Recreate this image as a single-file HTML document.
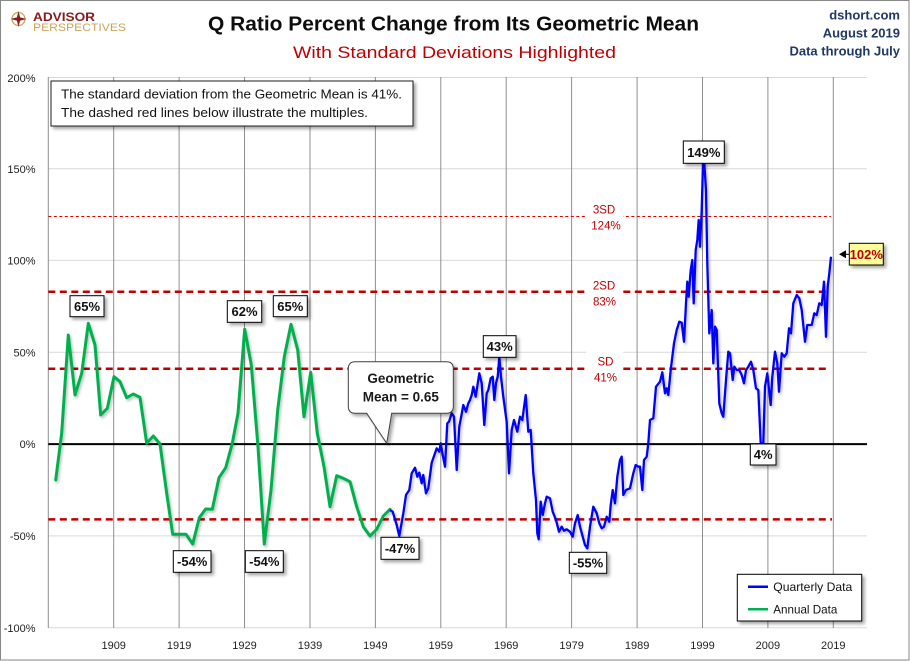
<!DOCTYPE html>
<html><head><meta charset="utf-8"><style>
html,body{margin:0;padding:0;background:#fff;}
svg{display:block;}
text{font-family:"Liberation Sans",Arial,sans-serif;}
</style></head><body>
<svg width="910" height="661" viewBox="0 0 910 661" xmlns="http://www.w3.org/2000/svg">
<defs>
<filter id="sh" x="-20%" y="-20%" width="150%" height="150%"><feDropShadow dx="2.5" dy="2.5" stdDeviation="1.5" flood-color="#000" flood-opacity="0.35"/></filter>
<filter id="lsh" x="-5%" y="-5%" width="110%" height="110%"><feDropShadow dx="1.5" dy="2" stdDeviation="1.2" flood-color="#000" flood-opacity="0.25"/></filter>
</defs>
<rect x="0.5" y="0.5" width="908.5" height="659.5" fill="#fff" stroke="#878787" stroke-width="1"/>

<!-- Logo -->
<g transform="translate(18.5,19)">
<circle r="6.5" fill="none" stroke="#c9a55a" stroke-width="1.3"/>
<polygon points="0,-8 1.6,-1.6 8,0 1.6,1.6 0,8 -1.6,1.6 -8,0 -1.6,-1.6" fill="#8b1a1a"/>
<circle r="2.3" fill="#8b1a1a"/>
</g>
<text x="33" y="21" font-size="12" font-weight="bold" fill="#8b1a1a" textLength="62" lengthAdjust="spacingAndGlyphs">ADVISOR</text>
<text x="33" y="31" font-size="11" fill="#c9a55a" textLength="93" lengthAdjust="spacingAndGlyphs">PERSPECTIVES</text>

<!-- Titles -->
<text x="208" y="30.5" font-size="20" font-weight="bold" fill="#0d0d0d" textLength="491" lengthAdjust="spacingAndGlyphs">Q Ratio Percent Change from Its Geometric Mean</text>
<text x="293" y="58" font-size="17" fill="#c00000" textLength="323" lengthAdjust="spacingAndGlyphs">With Standard Deviations Highlighted</text>
<g font-size="13" font-weight="bold" fill="#1f3864" text-anchor="end">
<text x="900" y="19.3">dshort.com</text>
<text x="900" y="37.5">August 2019</text>
<text x="900" y="55.5">Data through July</text>
</g>

<!-- Horizontal gridlines -->
<g stroke="#d9d9d9" stroke-width="1">
<line x1="48.3" y1="77.5" x2="867" y2="77.5"/>
<line x1="48.3" y1="168.7" x2="867" y2="168.7"/>
<line x1="48.3" y1="260.4" x2="867" y2="260.4"/>
<line x1="48.3" y1="352.3" x2="867" y2="352.3"/>
<line x1="48.3" y1="535.9" x2="867" y2="535.9"/>
<line x1="48.3" y1="627.7" x2="867" y2="627.7"/>
</g>
<!-- Vertical gridlines -->
<g stroke="#8f8f8f" stroke-width="1">
<line x1="48.3" y1="77" x2="48.3" y2="628"/>
<line x1="113.7" y1="77" x2="113.7" y2="628"/>
<line x1="179.1" y1="77" x2="179.1" y2="628"/>
<line x1="244.5" y1="77" x2="244.5" y2="628"/>
<line x1="310" y1="77" x2="310" y2="628"/>
<line x1="375.4" y1="77" x2="375.4" y2="628"/>
<line x1="440.8" y1="77" x2="440.8" y2="628"/>
<line x1="506.2" y1="77" x2="506.2" y2="628"/>
<line x1="571.6" y1="77" x2="571.6" y2="628"/>
<line x1="637.1" y1="77" x2="637.1" y2="628"/>
<line x1="702.5" y1="77" x2="702.5" y2="628"/>
<line x1="767.9" y1="77" x2="767.9" y2="628"/>
<line x1="833.3" y1="77" x2="833.3" y2="628"/>
</g>

<!-- Y labels -->
<g font-size="11" fill="#222" text-anchor="end">
<text x="35.5" y="82">200%</text>
<text x="35.5" y="173">150%</text>
<text x="35.5" y="264.5">100%</text>
<text x="35.5" y="356.5">50%</text>
<text x="35.5" y="448">0%</text>
<text x="35.5" y="540">-50%</text>
<text x="35.5" y="632">-100%</text>
</g>
<!-- X labels -->
<g font-size="11" fill="#222" text-anchor="middle">
<text x="113.7" y="649">1909</text>
<text x="179.1" y="649">1919</text>
<text x="244.5" y="649">1929</text>
<text x="310" y="649">1939</text>
<text x="375.4" y="649">1949</text>
<text x="440.8" y="649">1959</text>
<text x="506.2" y="649">1969</text>
<text x="571.6" y="649">1979</text>
<text x="637.1" y="649">1989</text>
<text x="702.5" y="649">1999</text>
<text x="767.9" y="649">2009</text>
<text x="833.3" y="649">2019</text>
</g>

<!-- SD lines -->
<line x1="48.3" y1="216.5" x2="831" y2="216.5" stroke="#e00000" stroke-width="1" stroke-dasharray="3,2.5"/>
<g stroke="#c00000" stroke-width="2.5" stroke-dasharray="7,4.5">
<line x1="48.3" y1="291.7" x2="828" y2="291.7"/>
<line x1="48.3" y1="368.8" x2="828" y2="368.8"/>
<line x1="48.3" y1="519.4" x2="832" y2="519.4"/>
</g>
<!-- zero line -->
<line x1="48.3" y1="444.1" x2="867" y2="444.1" stroke="#000" stroke-width="2"/>

<!-- SD labels -->
<g fill="#fff">
<rect x="586" y="201" width="37" height="31"/>
<rect x="586" y="278" width="37" height="30"/>
<rect x="586" y="350" width="37" height="34"/>
</g>
<g font-size="11.5" fill="#c00000" text-anchor="middle">
<text x="604" y="213.3">3SD</text>
<text x="606" y="229.3">124%</text>
<text x="604" y="289.3">2SD</text>
<text x="604.5" y="305.3">83%</text>
<text x="605.5" y="365.3">SD</text>
<text x="605.5" y="381.3">41%</text>
</g>

<!-- Annual (green) -->
<polyline filter="url(#lsh)" fill="none" stroke="#00b050" stroke-width="3" stroke-linejoin="round" stroke-linecap="round" points="
55.7,480 61.7,433 68.3,335 75,395 81.7,373.3 88.3,323.3 95,345 100.7,415 107.3,408.3 114,376.7 120,381.7 126.7,397.7 133.3,394 140,397.3 146.7,443.3 153.3,436 160,444 166.7,493.3 172.7,534.3 186,534.3 192.7,544 199.3,517.7 205.7,509 212.3,509.3 219,477.7 225.7,467.7 232.3,443.3 238,413.3 244.7,329.3 251.3,365 258,446.7 264.3,544 271,490 277.7,410 284.3,356.7 291,324.3 297.7,350 304,416.7 310.7,372.3 317.3,433.3 324,466.7 330,506.7 336.7,475.7 343.3,478.3 350,481.7 356.7,506.7 363.3,526.7 370,536 376.7,529.3 383.3,516 390,509.3"/>

<!-- Quarterly (blue) -->
<polyline filter="url(#lsh)" fill="none" stroke="#0000ff" stroke-width="2.3" stroke-linejoin="round" points="
390,510 392.7,511.7 396.7,525 399.3,536 403.3,513.3 406,495 409.3,490 411.7,473.3 415,467.7 417.3,476.7 419.3,472.7 421.7,483.3 423.3,475 426,493.3 428.3,488.3 431.7,462.7 435,453.3 436.7,448.3 439.3,451.7 440.7,443.3 442.7,455 445,466.7 447.3,423.3 449,421.7 451.7,413.3 454,416.7 456.7,470 459.3,426.7 461.5,415 463.3,405 466,411.7 468.3,403.3 470,400 471.7,395 473.3,386.7 475.7,396.7 479.3,373.3 481.7,383.3 484.3,425 486.7,393.3 488.3,390 490.7,378.3 492.7,376.7 494.3,400 496,383.3 497.7,376.7 499.3,357.3 501,376.7 503.3,396.7 506.7,422 509,473.3 511.7,430 514,420 517.3,431.7 520,416.7 522.3,420 525.7,395 528.3,431.7 530.7,430 533.3,473.3 536,500 537.3,533.3 538.7,539.3 540.7,501.7 542.7,515 545,503.3 546.7,496.7 550,498.3 552.7,511.7 556,520 559,531.7 561.7,526.7 564,530.7 566.7,529.3 570,531.7 572.7,536.7 575,523.3 577.7,515 580,526.7 582.7,536.7 585,545 587.3,548.3 590,526.7 593.3,506.7 596.7,513.3 599.3,523.3 601.7,528.3 604,526.7 606.7,516.7 609.3,521.7 610.7,505 612.7,490 615,503.3 617.3,476.7 620,460 621.7,456.7 623.3,495 626,490 630,488.3 633.3,473.3 635.7,465 638.3,466.7 640,466.7 642.3,490 644,460 646.7,456.7 648.3,443.3 650,420 653.3,418.3 656,386.7 660,381.7 662.3,372.3 665,393.3 666.7,388.3 668.3,395 670.7,370 674,343.3 676.7,330 679.3,321.7 681.7,322.7 684,341.7 686,303.3 687.3,281.7 688.7,296.7 690.7,270 692.3,260 693.7,303.3 695.7,250 697.3,240 698.7,220 700,246.7 701.7,210 703,163.3 704.3,163.3 706,190 707.3,263.3 709.3,333.3 711.7,310 713.3,363.3 715,326.7 716.7,330 719.3,403.3 721.7,413.3 723.3,416.7 726,380 728.3,351.7 730,353.3 732.7,380 734.3,366.7 736.7,370 739.3,370 741.7,375 744,383.3 746,370 748.3,366.7 751,361.7 753.3,370 756,388.3 758.3,390 760.7,443.3 763.3,443.3 765,386.7 767.3,373.3 770.7,405 772.3,376.7 775,351.7 777.3,363.3 779,391.7 781.7,353.3 784.3,356.7 786.7,353.3 789,328.3 791,333.3 793.3,303.3 796.7,295 799.3,298.3 801.7,310 805,341.7 807.3,325 811.7,325 814.3,313.3 816.7,315 819.3,303.3 821.7,305 824,281.7 826,336.7 827.7,286.7 829.3,273.3 831,256.7"/>

<!-- Info text box -->
<rect x="51" y="81" width="362" height="45" fill="#fff" stroke="#1a1a1a" stroke-width="1" filter="url(#sh)"/>
<text x="61" y="98.5" font-size="13" fill="#111" textLength="341" lengthAdjust="spacingAndGlyphs">The standard deviation from the Geometric Mean is 41%.</text>
<text x="61" y="117" font-size="13" fill="#111" textLength="307" lengthAdjust="spacingAndGlyphs">The dashed red lines below illustrate the multiples.</text>

<!-- Geometric mean callout -->
<path filter="url(#sh)" d="M355.3,361.7 H446.3 Q453.3,361.7 453.3,368.7 V406.3 Q453.3,413.3 446.3,413.3 H391.7 L386.7,443.3 L366.7,413.3 H355.3 Q348.3,413.3 348.3,406.3 V368.7 Q348.3,361.7 355.3,361.7 Z" fill="#fff" stroke="#404040" stroke-width="1"/>
<g font-size="13.5" font-weight="bold" fill="#1a1a1a" text-anchor="middle">
<text x="400.8" y="383">Geometric</text>
<text x="400.8" y="401.5">Mean = 0.65</text>
</g>

<!-- Value label boxes -->
<g fill="#fff" stroke="#000" stroke-width="1" filter="url(#sh)">
<rect x="70" y="295.7" width="34" height="21"/>
<rect x="227.3" y="300.7" width="34.4" height="21.6"/>
<rect x="273.3" y="295.7" width="34" height="21"/>
<rect x="173.3" y="550.7" width="37.7" height="21.6"/>
<rect x="245.3" y="550.7" width="38" height="21.6"/>
<rect x="381" y="537.3" width="38" height="22"/>
<rect x="683.3" y="141" width="41" height="22.3"/>
<rect x="483.3" y="335.7" width="32.7" height="21.6"/>
<rect x="750.3" y="444" width="25.7" height="21"/>
<rect x="569.3" y="552.3" width="37.4" height="21"/>
<rect x="849.3" y="243.3" width="34" height="21.7" fill="#ffff99"/>
</g>
<g font-size="13" font-weight="bold" fill="#111" text-anchor="middle">
<text x="87" y="310.8">65%</text>
<text x="244.5" y="316">62%</text>
<text x="290.3" y="310.8">65%</text>
<text x="192.2" y="566">-54%</text>
<text x="264.3" y="566">-54%</text>
<text x="400" y="553">-47%</text>
<text x="703.8" y="156.8">149%</text>
<text x="499.7" y="351">43%</text>
<text x="763.2" y="459">4%</text>
<text x="588" y="567.4">-55%</text>
<text x="866.3" y="258.8" fill="#c00000">102%</text>
</g>
<polygon points="839,254.3 846,250.3 846,258.3" fill="#000"/>
<line x1="845" y1="254.3" x2="849.3" y2="254.3" stroke="#000" stroke-width="1"/>

<!-- Legend -->
<rect x="737.3" y="574.3" width="124.4" height="46.7" fill="#fff" stroke="#000" stroke-width="1" filter="url(#sh)"/>
<line x1="748" y1="586.7" x2="768" y2="586.7" stroke="#0000ff" stroke-width="2.5"/>
<line x1="748" y1="609.3" x2="768" y2="609.3" stroke="#00b050" stroke-width="2.5"/>
<text x="773.3" y="591" font-size="12" fill="#111" textLength="79" lengthAdjust="spacingAndGlyphs">Quarterly Data</text>
<text x="773.3" y="613.5" font-size="12" fill="#111" textLength="64" lengthAdjust="spacingAndGlyphs">Annual Data</text>
</svg>
</body></html>
